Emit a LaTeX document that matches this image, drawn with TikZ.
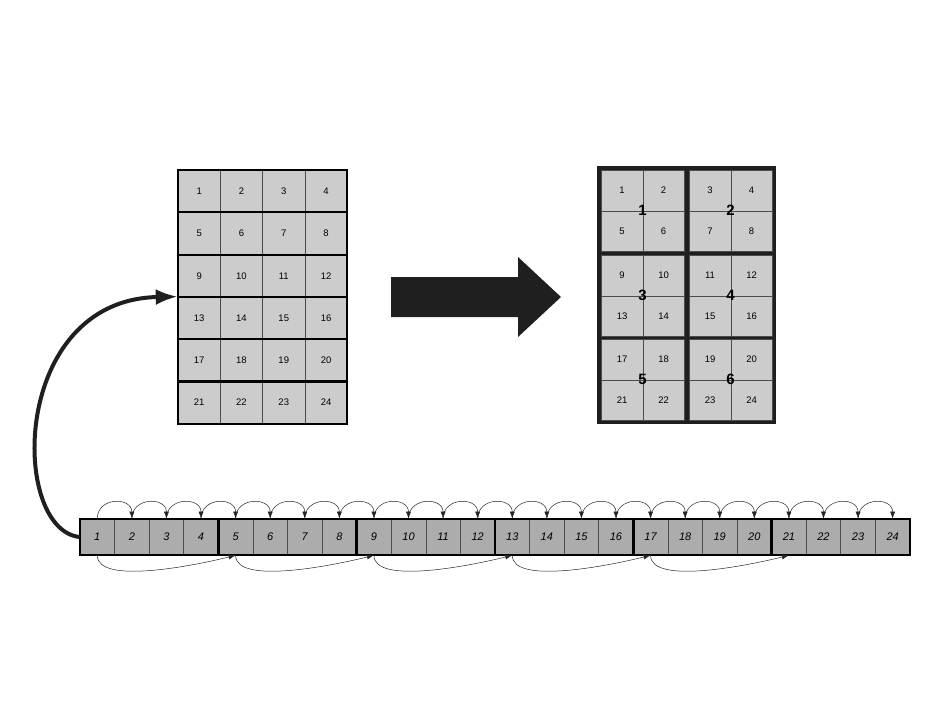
\documentclass[tikz,border=0pt]{standalone}
\usepackage{fontspec}
\setmainfont{Liberation Sans}
\usetikzlibrary{arrows.meta}
\begin{document}
\begin{tikzpicture}[x=1pt,y=-1pt,
  cellA/.style={fill=gray!40,draw=black!70,line width=0.6pt},
  cellS/.style={fill=gray!65,draw=black!70,line width=0.6pt},
  num/.style={font=\fontsize{9.5}{11}\selectfont},
  snum/.style={font=\fontsize{11}{13}\selectfont\itshape},
  big/.style={font=\fontsize{15}{17}\selectfont\bfseries},
  hop/.style={-{Latex[length=7pt,width=5pt]},line width=0.5pt,black!85}]
\useasboundingbox (0,0) rectangle (931,720);
% left grid
\foreach \r in {0,...,5}{
  \foreach \c in {0,...,3}{
    \pgfmathtruncatemacro\n{\r*4+\c+1}
    \node[cellA,minimum width=42.3pt,minimum height=42.3pt,inner sep=0,num] (L\n) at ({178+21.15+\c*42.3},{170+21.15+\r*42.3}) {\n};
  }
  \draw[line width=2.2pt] (178,{170+\r*42.3}) rectangle (347,{170+(\r+1)*42.3});
}
% big arrow
\node (ba) at (476,297) {};
\fill[black!88] (391,277) -- (518,277) -- (518,257) -- (561,297) -- (518,337) -- (518,317) -- (391,317) -- cycle;
% right grid
\fill[black!88] (597,166) rectangle (776,424);
\foreach \br/\by in {0/170,1/255,2/339}{
  \foreach \bc/\bx in {0/601,1/689}{
    \pgfmathtruncatemacro\b{\br*2+\bc+1}
    \foreach \i in {0,1}{\foreach \j in {0,1}{
      \pgfmathtruncatemacro\n{(\br*2+\i)*4+\bc*2+\j+1}
      \node[cellA,minimum width=41.5pt,minimum height=40.5pt,inner sep=0,num,anchor=north west] (R\n) at ({\bx+\j*41.5},{\by+\i*40.5}) {\n};
    }}
    \node[big] (B\b) at ({\bx+41.5},{\by+40.5}) {\b};
  }
}
% strip
\foreach \k in {1,...,24}{
  \node[cellS,minimum width=34.58pt,minimum height=36pt,inner sep=0,snum] (S\k) at ({80+17.29+(\k-1)*34.58},537) {\k};
}
\foreach \g in {0,...,5}{
  \draw[line width=2.4pt] ({80+\g*138.33},519) rectangle ({80+(\g+1)*138.33},555);
}
\foreach \k [evaluate=\k as \m using int(\k+1)] in {1,...,23}{
  \draw[hop] (S\k.north) .. controls +(0,-22) and +(0,-22) .. (S\m.north);
}
\foreach \k [evaluate=\k as \m using int(\k+4)] in {1,5,9,13,17}{
  \draw[hop] (S\k.south) .. controls +(0,30) and +(-40,10) .. (S\m.south);
}
% curved arrow
\draw[line width=4pt,black!88,-{Latex[length=22pt,width=16pt]}] (S1.west) .. controls (10,530) and (10,300) .. (L13.north west);
\end{tikzpicture}
\end{document}
